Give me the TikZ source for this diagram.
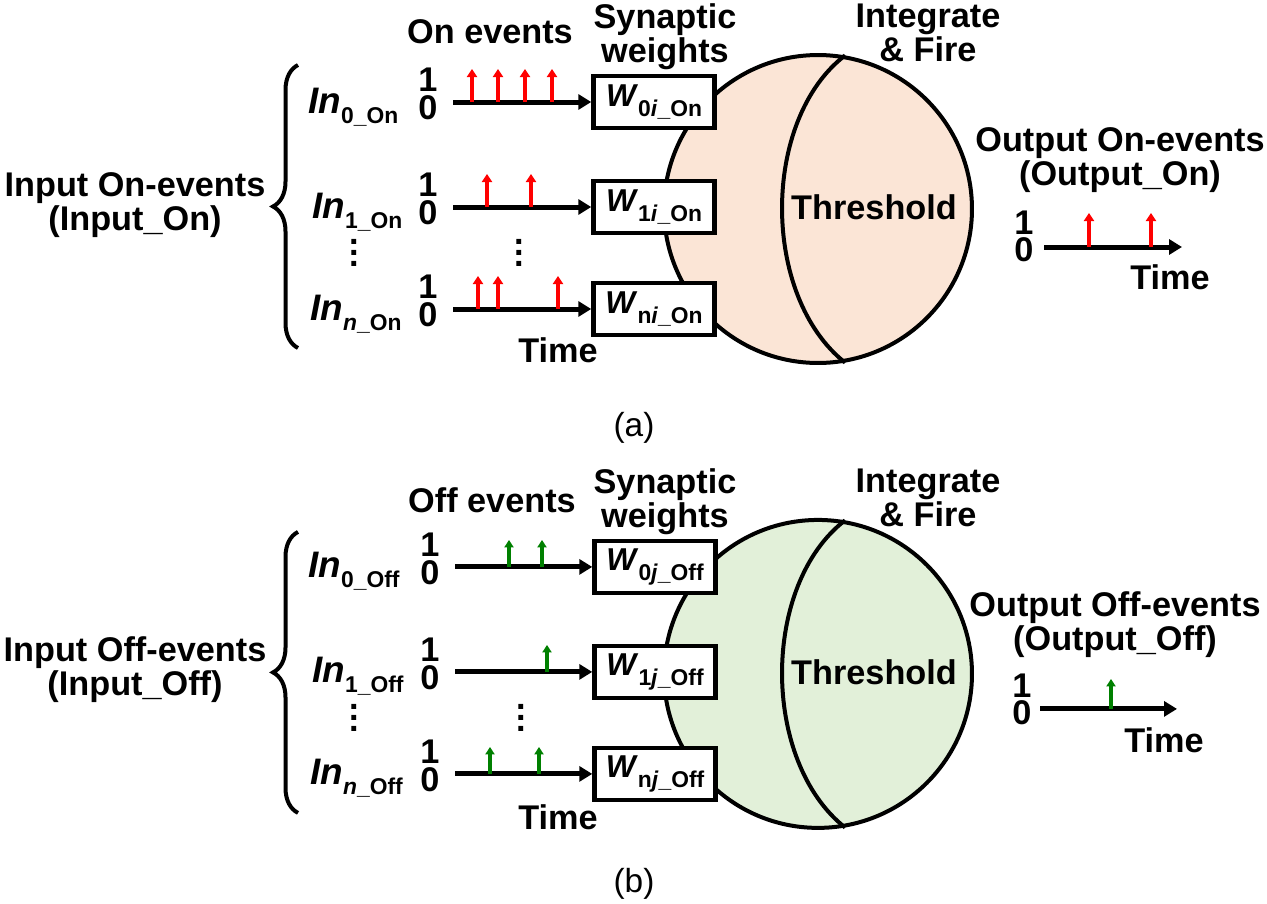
\documentclass[tikz,border=0pt]{standalone}
\usepackage{fontspec}
\setmainfont{Liberation Sans}
\usetikzlibrary{arrows.meta, decorations.pathreplacing}

\definecolor{onfill}{HTML}{FBE5D6}
\definecolor{offfill}{HTML}{E2F0D9}
\newcommand{\subtxt}[1]{\raisebox{-0.2cm}{\fontsize{13}{13}\selectfont #1}}
\newcommand{\inlab}[2]{\textit{In}\subtxt{#1\_#2}}
\newcommand{\wlab}[2]{\textit{W}\subtxt{#1\_#2}}
\newcommand{\bigvdots}{\vbox{\baselineskip=6.5pt\lineskiplimit=0pt\hbox{.}\hbox{.}\hbox{.}}}

\begin{document}
\begin{tikzpicture}[
    x=0.02cm, y=-0.02cm,
    lbl/.style={font=\fontsize{19.5}{19.5}\selectfont\bfseries, align=center, inner sep=0},
    inlbl/.style={font=\fontsize{21}{21}\selectfont\bfseries, inner sep=0, anchor=base west},
    wbox/.style={rectangle, draw, line width=0.09cm, fill=white, minimum width=2.42cm, minimum height=1.04cm, inner sep=0, font=\fontsize{18}{18}\selectfont\bfseries},
    soma/.style={circle, draw, line width=0.08cm, minimum size=6.16cm, inner sep=0},
    axis/.style={line width=0.1cm, -{Triangle[length=0.26cm,width=0.3cm]}},
    onspike/.style={red, line width=0.09cm, -{Triangle[length=0.16cm,width=0.2cm]}},
    offspike/.style={green!50!black, line width=0.075cm, -{Triangle[length=0.15cm,width=0.18cm]}},
    brace/.style={decorate, decoration={brace, amplitude=0.5cm}, line width=0.08cm},
    panelcap/.style={font=\fontsize{19}{19}\selectfont, inner sep=0}
]
    \useasboundingbox (0,0) rectangle (1267,903);

    % (a) On events
    \node[soma, fill=onfill] (somaOn) at (818,209) {};
    \draw[line width=0.08cm] (somaOn.80) .. controls (761,120) and (761,296) .. (somaOn.-80);
    \node[lbl] (thrOn) at (874,207) {Threshold};
    \node[lbl] (ifOn) at (928,33) {Integrate\\\& Fire};

    \node[lbl] (inputOn) at (135,205) {Input On-events\\(Input\_On)};
    \draw[brace] (298,348) -- (298,65);
    \node[inlbl] (inOn0) at (308,113) {\inlab{0}{On}};
    \node[inlbl] (inOn1) at (312,218) {\inlab{1}{On}};
    \node[lbl] (vdOnA) at (354,253) {\bigvdots};
    \node[inlbl] (inOnN) at (310,320) {\inlab{\textit{n}}{On}};
    \foreach \y in {102,207,309} {
        \node[lbl] (oneOn\y) at (428,\y-22) {1};
        \node[lbl] (zeroOn\y) at (428,\y+6) {0};
    }
    \node[lbl] (evOn) at (490,32) {On events};
    \node[lbl] (synOn) at (665,37) {Synaptic\\weights};
    \node[wbox] (wOn0) at (654,102) {\wlab{0\textit{i}}{On}};
    \node[wbox] (wOn1) at (654,207) {\wlab{1\textit{i}}{On}};
    \node[wbox] (wOnN) at (654,309) {\wlab{n\textit{i}}{On}};
    \coordinate (tOn0) at (453,102);
    \coordinate (tOn1) at (453,207);
    \coordinate (tOnN) at (453,309);
    \draw[axis] (tOn0) -- (wOn0);
    \draw[axis] (tOn1) -- (wOn1);
    \draw[axis] (tOnN) -- (wOnN);
    \foreach \x in {472,498,525,552} \draw[onspike] (\x,102) -- ++(0,-33);
    \foreach \x in {487,531} \draw[onspike] (\x,207) -- ++(0,-33);
    \foreach \x in {478,498,558} \draw[onspike] (\x,309) -- ++(0,-33);
    \node[lbl] (vdOnB) at (519,253) {\bigvdots};
    \node[lbl] (timeOn) at (558,350) {Time};

    \node[lbl] (outOn) at (1120,160) {Output On-events\\(Output\_On)};
    \node[lbl] (oneOut) at (1024,223) {1};
    \node[lbl] (zeroOut) at (1024,250) {0};
    \coordinate (oOn) at (1044,247);
    \coordinate (oOnEnd) at (1182,247);
    \draw[axis] (oOn) -- (oOnEnd);
    \foreach \x in {1089,1151} \draw[onspike] (\x,247) -- ++(0,-34);
    \node[lbl] (timeOut) at (1170,277) {Time};
    \node[panelcap] (capA) at (634,428) {(a)};

    % (b) Off events
    \begin{scope}[yshift=-9.3cm]
    \node[soma, fill=offfill] (somaOff) at (818,209) {};
    \draw[line width=0.08cm] (somaOff.80) .. controls (761,120) and (761,296) .. (somaOff.-80);
    \node[lbl] (thrOff) at (874,207) {Threshold};
    \node[lbl] (ifOff) at (928,33) {Integrate\\\& Fire};

    \node[lbl] (inputOff) at (135,205) {Input Off-events\\(Input\_Off)};
    \draw[brace] (298,348) -- (298,67);
    \node[inlbl] (inOff0) at (308,113) {\inlab{0}{Off}};
    \node[inlbl] (inOff1) at (312,218) {\inlab{1}{Off}};
    \node[lbl] (vdOffA) at (354,253) {\bigvdots};
    \node[inlbl] (inOffN) at (310,320) {\inlab{\textit{n}}{Off}};
    \foreach \y in {102,207,309} {
        \node[lbl] (oneOff\y) at (430,\y-22) {1};
        \node[lbl] (zeroOff\y) at (430,\y+6) {0};
    }
    \node[lbl] (evOff) at (492,35) {Off events};
    \node[lbl] (synOff) at (665,37) {Synaptic\\weights};
    \node[wbox] (wOff0) at (655,102) {\wlab{0\textit{j}}{Off}};
    \node[wbox] (wOff1) at (655,207) {\wlab{1\textit{j}}{Off}};
    \node[wbox] (wOffN) at (655,309) {\wlab{n\textit{j}}{Off}};
    \coordinate (tOff0) at (455,102);
    \coordinate (tOff1) at (455,207);
    \coordinate (tOffN) at (455,309);
    \draw[axis] (tOff0) -- (wOff0);
    \draw[axis] (tOff1) -- (wOff1);
    \draw[axis] (tOffN) -- (wOffN);
    \foreach \x in {509,542} \draw[offspike] (\x,102) -- ++(0,-27);
    \foreach \x in {547} \draw[offspike] (\x,207) -- ++(0,-27);
    \foreach \x in {490,539} \draw[offspike] (\x,309) -- ++(0,-27);
    \node[lbl] (vdOffB) at (521,253) {\bigvdots};
    \node[lbl] (timeOff) at (558,352) {Time};

    \node[lbl] (outOff) at (1115,160) {Output Off-events\\(Output\_Off)};
    \node[lbl] (oneOutB) at (1022,221) {1};
    \node[lbl] (zeroOutB) at (1022,248) {0};
    \coordinate (oOff) at (1040,244);
    \coordinate (oOffEnd) at (1177,244);
    \draw[axis] (oOff) -- (oOffEnd);
    \draw[offspike] (1111,244) -- ++(0,-30);
    \node[lbl] (timeOutB) at (1164,275) {Time};
    \end{scope}
    \node[panelcap] (capB) at (634,884) {(b)};
\end{tikzpicture}
\end{document}
